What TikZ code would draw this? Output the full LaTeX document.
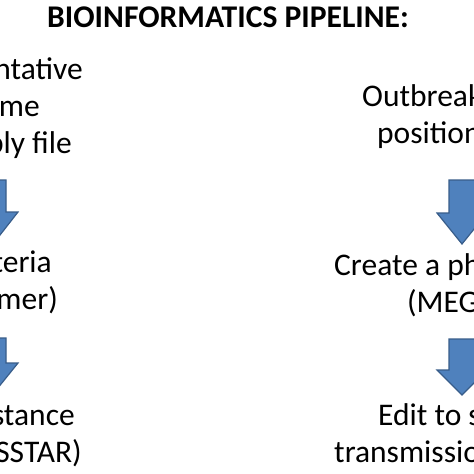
\documentclass[tikz,border=0pt]{standalone}
\usepackage{fontspec}
\setmainfont{Carlito}
\definecolor{arrowblue}{RGB}{79,129,189}
\definecolor{arrowedge}{RGB}{56,93,138}
\newcommand\blockarr[4]{%
  \draw[blockarrow] ({#1-13},#2) -- ({#1+13},#2) -- ({#1+13},#3) -- ({#1+25},#3)
    -- (#1,#4) -- ({#1-25},#3) -- ({#1-13},#3) -- cycle;}
\begin{document}
\begin{tikzpicture}[x=1pt,y=-1pt,
  txt/.style={inner sep=0pt, font=\fontsize{31.5}{37}\selectfont},
  lefttxt/.style={txt, anchor=base east},
  righttxt/.style={txt, anchor=base west},
  titletxt/.style={inner sep=0pt, anchor=base, font=\fontsize{31.6}{37}\selectfont\bfseries},
  blockarrow/.style={fill=arrowblue, draw=arrowedge, line width=1.2pt, line join=miter}]
\useasboundingbox (0,0) rectangle (474,474);
\clip (0,0) rectangle (474,474);
\fill[white] (0,0) rectangle (474,474);
\node[titletxt] (title) at (228,27) {BIOINFORMATICS PIPELINE:};
% left column
\node[lefttxt] (l1a) at (83,79) {Representative};
\node[lefttxt] (l1b) at (40,116) {genome};
\node[lefttxt] (l1c) at (72,153) {assembly file};
\node[lefttxt] (l2a) at (52,272) {Identify bacteria};
\node[lefttxt] (l2b) at (58,309) {(Kmer)};
\node[lefttxt] (l3a) at (75,425) {Antimicrobial resistance};
\node[lefttxt] (l3b) at (82,462) {(SSTAR)};
% right column
\node[righttxt] (r1a) at (362,106) {Outbreak SNP};
\node[righttxt] (r1b) at (377,143) {positions};
\node[righttxt] (r2a) at (334,275) {Create a phylogeny};
\node[righttxt] (r2b) at (407,312) {(MEGA)};
\node[righttxt] (r3a) at (378,425) {Edit to show};
\node[righttxt] (r3b) at (334,462) {transmission};
% block arrows
\blockarr{-7}{180}{212}{244}
\blockarr{-7}{338}{363}{394}
\blockarr{462}{180}{213}{244}
\blockarr{462}{339}{370}{395}
\end{tikzpicture}
\end{document}
